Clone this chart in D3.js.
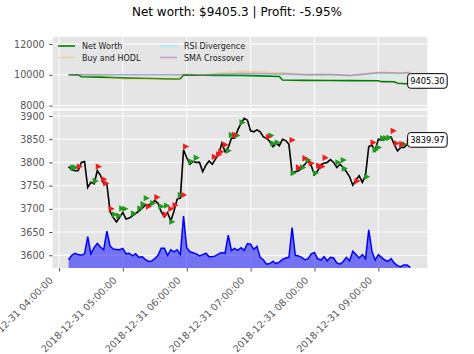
<!DOCTYPE html>
<html lang="en">
<head>
<meta charset="utf-8">
<title>Net worth</title>
<script src="https://d3js.org/d3.v7.min.js"></script>
<style>
  body { margin: 0; background: #fff; }
  text { font-family: "DejaVu Sans", sans-serif; }
</style>
</head>
<body>
<script>
// time index: one candle every 3 minutes
const startTime = "2018-12-31 04:09";
const stepMinutes = 3;
const xLimits = ["2018-12-31 03:54", "2018-12-31 09:46"];
const hourTicks = ["04:00", "05:00", "06:00", "07:00", "08:00", "09:00"];

const closes = [
  3791, 3784, 3782, 3782, 3800, 3802, 3746, 3757, 3754, 3782,
  3772, 3754, 3753, 3694, 3681, 3672, 3682, 3692, 3678, 3680,
  3685, 3690, 3695, 3701, 3708, 3708, 3712, 3718, 3712, 3694,
  3683, 3692, 3674, 3695, 3721, 3723, 3827, 3810, 3796, 3802,
  3800, 3800, 3780, 3794, 3803, 3796, 3807, 3817, 3841, 3823,
  3832, 3852, 3852, 3870, 3884, 3895, 3891, 3868, 3866, 3870,
  3866, 3855, 3852, 3845, 3834, 3841, 3836, 3850, 3847, 3839,
  3777, 3780, 3782, 3789, 3796, 3803, 3793, 3773, 3782, 3795,
  3798, 3800, 3806, 3800, 3789, 3796, 3789, 3780, 3769, 3751,
  3762, 3771, 3757, 3773, 3834, 3837, 3825, 3850, 3848, 3850,
  3853, 3855, 3838, 3825, 3832, 3832, 3838, 3839.97
];
const volumes = [
  8.0, 12.3, 14.3, 13.0, 12.3, 13.7, 30.3, 13.7, 19.7, 23.7,
  20.3, 17.7, 35.7, 21.3, 18.3, 18.0, 17.7, 19.0, 13.7, 14.3,
  11.7, 13.7, 10.3, 11.0, 8.3, 6.3, 6.7, 9.0, 12.3, 19.0,
  19.0, 12.3, 17.7, 15.7, 17.7, 13.0, 50.3, 19.7, 15.7, 14.7,
  13.7, 11.7, 13.0, 14.3, 11.0, 11.0, 11.7, 13.7, 15.0, 14.3,
  31.7, 17.0, 19.0, 17.0, 19.7, 17.0, 23.7, 23.0, 18.0, 21.0,
  10.3, 7.7, 3.7, 4.3, 6.3, 4.3, 5.7, 8.3, 9.7, 10.3,
  39.0, 12.3, 11.7, 10.3, 8.0, 9.0, 13.7, 15.0, 9.0, 7.7,
  11.0, 7.0, 10.3, 9.7, 5.0, 3.7, 6.3, 10.3, 7.0, 16.3,
  13.0, 9.7, 13.0, 9.0, 37.0, 16.3, 7.7, 13.0, 10.3, 7.7,
  6.3, 9.0, 4.7, 2.3, 1.3, 3.0, 3.0, 0.7
];
const lastHigh = 3842;

// net worth and benchmarks, read at these candle steps
const worthSteps = [0, 3, 4, 10, 18, 26, 33, 35, 36, 42, 48, 54, 60, 66, 67, 74, 82, 88, 97, 98, 102, 103, 107];
const netWorth = [10000, 9995, 9870, 9850, 9790, 9760, 9730, 9740, 9985, 9975, 9965, 9960, 9930, 9890, 9665, 9640, 9630, 9620, 9615, 9555, 9550, 9450, 9405.3];
const buyAndHodl = [10000, 9970, 10020, 9945, 9695, 9785, 9740, 9815, 10085, 9965, 10125, 10235, 10190, 10110, 10150, 10005, 10030, 9935, 10150, 10145, 10115, 10080, 10125];
const rsiDivergence = [10000, 10000, 10000, 10000, 10000, 10000, 10000, 10000, 10000, 10000, 10010, 10020, 10015, 10005, 10010, 9990, 9995, 9975, 10030, 10030, 10025, 10020, 10030];
const smaCrossover = [10000, 10000, 10000, 10000, 10000, 10000, 10000, 10000, 10000, 9990, 10040, 10100, 10085, 10050, 10060, 10010, 10020, 9960, 10140, 10140, 10130, 10120, 10150];

const buyTimes = ["04:13", "04:15", "04:34", "04:52", "04:56", "04:59", "05:02", "05:10", "05:16", "05:19",
  "05:22", "05:28", "05:36", "05:41", "05:46", "05:54", "06:04", "06:09", "06:39", "06:42",
  "06:47", "06:52", "07:19", "07:21", "07:25", "07:40", "07:49", "07:54", "08:01", "08:22",
  "08:27", "08:28", "08:49", "08:57", "09:00", "09:04", "09:07", "09:10", "09:24"];
const buyPrices = [3789, 3789, 3760, 3688, 3685, 3701, 3700, 3690, 3701, 3710,
  3723, 3712, 3705, 3707, 3672, 3730, 3802, 3810, 3825, 3859,
  3858, 3886, 3858, 3841, 3843, 3777, 3789, 3805, 3777, 3800,
  3805, 3787, 3769, 3827, 3832, 3852, 3852, 3853, 3839];
const sellTimes = ["04:19", "04:37", "04:42", "04:44", "04:49", "05:24", "05:32", "05:40", "05:45", "05:49",
  "05:57", "05:59", "06:26", "06:30", "06:32", "06:36", "06:45", "07:17", "07:39", "07:45",
  "07:51", "07:57", "08:04", "08:07", "08:10", "08:40", "08:55", "09:14", "09:17", "09:22", "09:29"];
const sellPrices = [3791, 3791, 3764, 3755, 3700, 3705, 3725, 3688, 3700, 3708,
  3730, 3834, 3812, 3817, 3823, 3838, 3859, 3855, 3848, 3789,
  3809, 3798, 3793, 3791, 3810, 3760, 3843, 3868, 3841, 3839, 3845];

const worthTicks = [8000, 10000, 12000];
const priceTicks = [3600, 3650, 3700, 3750, 3800, 3850, 3900];

const benchmarks = [
  {name: "Buy and HODL", values: buyAndHodl, color: "orange"},
  {name: "RSI Divergence", values: rsiDivergence, color: "cyan"},
  {name: "SMA Crossover", values: smaCrossover, color: "purple"}
];

const parse = d3.timeParse("%Y-%m-%d %H:%M");
const day = startTime.slice(0, 11);
const t0 = parse(startTime);
const dates = closes.map((d, i) => d3.timeMinute.offset(t0, i * stepMinutes));
const hours = hourTicks.map(h => parse(day + h));

const svg = d3.select("body").append("svg").attr("width", 474).attr("height", 354);

const x = d3.scaleTime().domain(xLimits.map(parse)).range([52.6, 427.3]);
const yWorth = d3.scaleLinear().domain([7812, 12455]).range([108.5, 37]);
const yPrice = d3.scaleLinear().domain([3572.6, 3911.8]).range([268, 110.5]);
const yVol = d3.scaleLinear().domain([0, d3.max(volumes) / 0.33]).range([268, 110.5]);

function panel(yScale, ticks) {
  const [y1, y0] = yScale.range();
  const [x0, x1] = x.range();
  const g = svg.append("g");
  g.append("rect").attr("x", x0).attr("y", y0).attr("width", x1 - x0).attr("height", y1 - y0)
    .attr("fill", "#E5E5E5");
  g.selectAll(".hg").data(ticks).join("line")
    .attr("x1", x0).attr("x2", x1)
    .attr("y1", d => yScale(d)).attr("y2", d => yScale(d))
    .attr("stroke", "#fff").attr("stroke-width", 1);
  g.selectAll(".vg").data(hours).join("line")
    .attr("x1", d => x(d)).attr("x2", d => x(d))
    .attr("y1", y0).attr("y2", y1)
    .attr("stroke", "#fff").attr("stroke-width", 1);
  const ax = g.append("g").attr("transform", `translate(${x0},0)`)
    .call(d3.axisLeft(yScale).tickValues(ticks).tickFormat(d3.format("d"))
      .tickSize(3.5).tickPadding(4.5));
  ax.select(".domain").remove();
  ax.selectAll("line").attr("stroke", "#555");
  ax.selectAll("text").attr("fill", "#555").attr("font-size", 9.6)
    .style("font-family", "DejaVu Sans");
  return g;
}

const topG = panel(yWorth, worthTicks);
const botG = panel(yPrice, priceTicks);

// net worth panel
const wDates = worthSteps.map(s => dates[s]);
const worthLine = d3.line().x((d, i) => x(wDates[i])).y(d => yWorth(d));
topG.append("path").attr("d", worthLine(netWorth))
  .attr("fill", "none").attr("stroke", "#008000").attr("stroke-width", 1.6);
benchmarks.forEach(b => {
  topG.append("path").attr("d", worthLine(b.values))
    .attr("fill", "none").attr("stroke", b.color).attr("stroke-opacity", 0.3).attr("stroke-width", 1.6);
});

// legend
const legend = [
  {name: "Net Worth", color: "#008000", op: 1, x: 58, y: 46},
  {name: benchmarks[0].name, color: benchmarks[0].color, op: 0.3, x: 58, y: 57.5},
  {name: benchmarks[1].name, color: benchmarks[1].color, op: 0.3, x: 160, y: 46},
  {name: benchmarks[2].name, color: benchmarks[2].color, op: 0.3, x: 160, y: 57.5}
];
const lg = topG.selectAll(".lg").data(legend).join("g");
lg.append("line").attr("x1", d => d.x).attr("x2", d => d.x + 17)
  .attr("y1", d => d.y).attr("y2", d => d.y)
  .attr("stroke", d => d.color).attr("stroke-opacity", d => d.op).attr("stroke-width", 1.6);
lg.append("text").attr("x", d => d.x + 24).attr("y", d => d.y + 3)
  .attr("font-size", 8).attr("fill", "#222").text(d => d.name);

function tag(g, px, py, label) {
  const t = g.append("text").attr("x", px).attr("y", py).attr("font-size", 8.3)
    .attr("fill", "#000").text(label);
  const b = t.node().getBBox();
  g.insert("rect", () => t.node())
    .attr("x", b.x - 2.6).attr("y", b.y - 2.3)
    .attr("width", b.width + 5.2).attr("height", b.height + 4.6)
    .attr("rx", 3).attr("fill", "#fff").attr("stroke", "#000").attr("stroke-width", 1);
}

const lastDate = dates[dates.length - 1];
tag(topG, x(lastDate), yWorth(netWorth[netWorth.length - 1]), d3.format(".2f")(netWorth[netWorth.length - 1]));

// volume
botG.append("path")
  .attr("d", d3.area().x((d, i) => x(dates[i])).y0(yVol(0)).y1(d => yVol(d))(volumes))
  .attr("fill", "blue").attr("fill-opacity", 0.5);
botG.append("path")
  .attr("d", d3.line().x((d, i) => x(dates[i])).y(d => yVol(d))(volumes))
  .attr("fill", "none").attr("stroke", "blue").attr("stroke-width", 1.5);

// price
botG.append("path")
  .attr("d", d3.line().x((d, i) => x(dates[i])).y(d => yPrice(d))(closes))
  .attr("fill", "none").attr("stroke", "#000").attr("stroke-width", 1.6);

const tri = "M-2.6,-3.2L3.6,0L-2.6,3.2Z";
botG.selectAll(".buy").data(buyTimes).join("path")
  .attr("d", tri)
  .attr("transform", (d, i) => `translate(${x(parse(day + d))},${yPrice(buyPrices[i])})`)
  .attr("fill", "#1f9a1f");
botG.selectAll(".sell").data(sellTimes).join("path")
  .attr("d", tri)
  .attr("transform", (d, i) => `translate(${x(parse(day + d))},${yPrice(sellPrices[i])})`)
  .attr("fill", "#f01c1c");

tag(botG, x(lastDate), yPrice(lastHigh), d3.format(".2f")(closes[closes.length - 1]));

// x axis
const xa = svg.append("g").attr("transform", "translate(0,268)")
  .call(d3.axisBottom(x).tickValues(hours).tickSize(3.5)
    .tickFormat(d3.timeFormat("%Y-%m-%d %H:%M:%S")));
xa.select(".domain").remove();
xa.selectAll("line").attr("stroke", "#555");
xa.selectAll("text")
  .attr("x", 0).attr("y", 0).attr("dy", 0)
  .attr("text-anchor", "end")
  .attr("transform", "translate(-6,13) rotate(-45)")
  .attr("fill", "#555").attr("font-size", 9.6)
  .style("font-family", "DejaVu Sans");

svg.append("text").attr("x", 237).attr("y", 16).attr("text-anchor", "middle")
  .attr("font-size", 12).attr("fill", "#000")
  .text("Net worth: $9405.3 | Profit: -5.95%");
</script>
</body>
</html>
